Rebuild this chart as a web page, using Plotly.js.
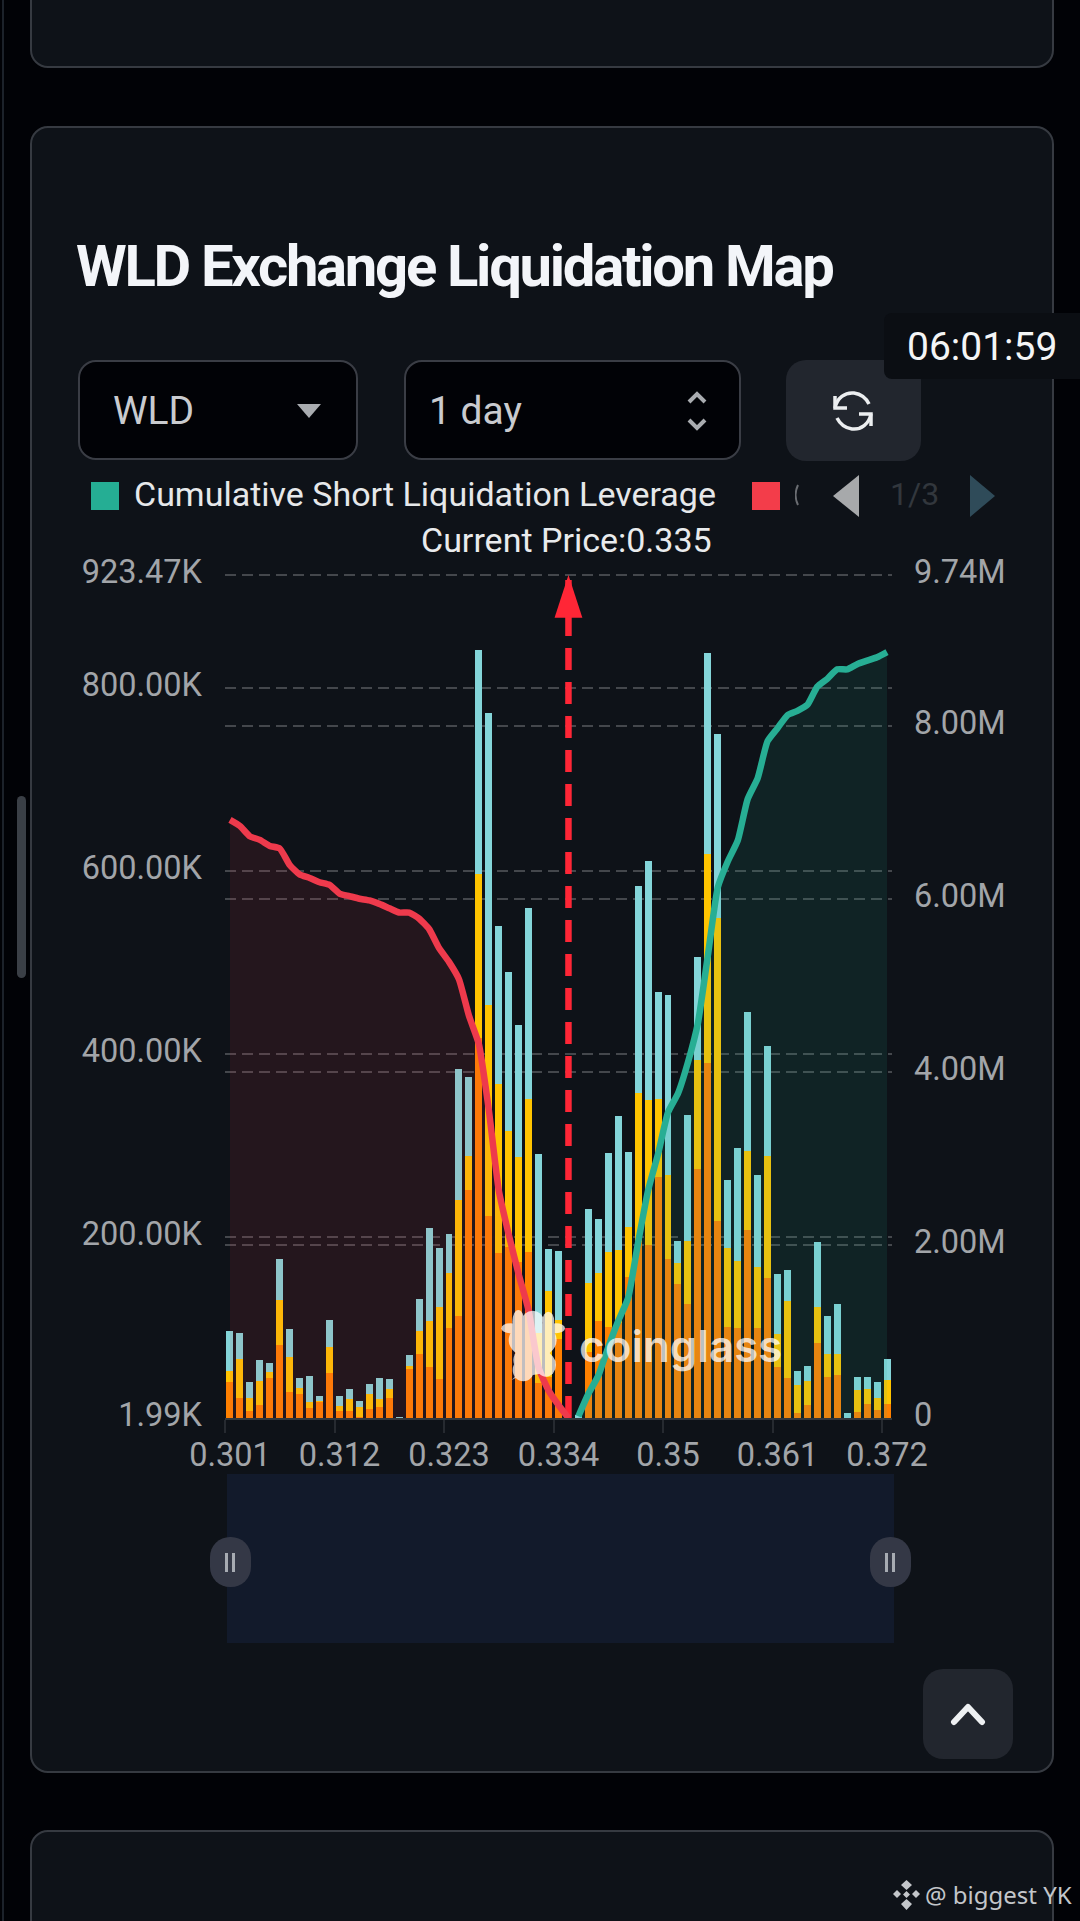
<!DOCTYPE html>
<html>
<head>
<meta charset="utf-8">
<title>WLD Exchange Liquidation Map</title>
<script src="https://cdn.plot.ly/plotly-3.0.1.min.js"></script>
<style>
html,body{margin:0;padding:0;background:#010206;font-family:Roboto,sans-serif;}
#page{position:relative;width:1080px;height:1921px;overflow:hidden;background:#010206;}
#page>div,#page>svg{position:absolute;box-sizing:border-box;}
.card{left:30px;width:1024px;background:#0e1218;border:2px solid #363a41;border-radius:18px;}
.select{top:360px;height:100px;background:#010206;border:2px solid #3a3d45;border-radius:18px;color:#c9cbcf;font-size:39px;line-height:98px;}
.btn{background:#22262e;border-radius:20px;}
.swatch{top:482px;width:28px;height:28px;}
#chart{left:0;top:0;width:1080px;height:1921px;}
.gtitle{letter-spacing:-2.3px;}
</style>
</head>
<body>
<div id="page">
  <div style="left:2px;top:0;width:2px;height:1921px;background:#1c222a"></div>
  <div style="left:17px;top:796px;width:9px;height:182px;background:#3a3f46;border-radius:5px"></div>
  <div class="card" style="top:-40px;height:108px"></div>
  <div class="card" style="top:126px;height:1647px"></div>
  <div class="card" style="top:1830px;height:200px"></div>

  <div class="select" style="left:78px;width:280px;padding-left:33px">WLD</div>
  <svg style="left:297px;top:404px" width="24" height="14"><path d="M0 0H24L12 14Z" fill="#a9acb0"/></svg>
  <div class="select" style="left:404px;width:337px;padding-left:23px">1 day</div>
  <svg style="left:686px;top:391px" width="22" height="40" fill="none" stroke="#a9acb0" stroke-width="4"><path d="M3 11L11 3L19 11M3 29L11 37L19 29"/></svg>
  <div class="btn" style="left:786px;top:360px;width:135px;height:101px"></div>
  <svg style="left:830px;top:388px" width="46" height="46" fill="none" stroke="#eceef0" stroke-width="3.5"><path d="M5 20C7 10 15 4 24 5C31 6 36 10 39 16M41 26C39 36 31 42 22 41C15 40 10 36 7 30"/><path d="M5 8V20H17M41 38V26H29"/></svg>
  <div style="left:884px;top:313px;width:196px;height:66px;background:#0b0e13;border-radius:8px 0 0 8px;color:#f4f5f6;font-size:39px;line-height:68px;padding-left:23px;white-space:nowrap">06:01:59</div>

  <div class="swatch" style="left:91px;background:#25ae94"></div>
  <div style="left:134px;top:472px;color:#e6e8ea;font-size:34px;line-height:44px;white-space:nowrap">Cumulative Short Liquidation Leverage</div>
  <div class="swatch" style="left:752px;background:#f33d4a"></div>
  <!-- sliver of the next legend label, scrolled away behind the pager -->
  <svg style="left:795px;top:484px" width="4" height="22"><path d="M3 1C0 7 0 15 3 21" fill="none" stroke="#6a6d72" stroke-width="2"/></svg>
  <svg style="left:833px;top:475px" width="162" height="42"><path d="M26 0V42L0 21Z" fill="#a7a9ab"/><path d="M137 0V42L162 21Z" fill="#2f4b59"/></svg>
  <div style="left:890px;top:472px;color:#32373d;font-size:32px;line-height:44px">1/3</div>

  <div style="left:227px;top:1474px;width:667px;height:169px;background:#121a2b"></div>

  <div id="chart"></div>

  <!-- coinglass logo sits on top of the bars -->
  <svg style="left:490px;top:1180px" width="150" height="240" viewBox="0 0 450 720">
    <g fill="#fff" opacity="0.72">
      <ellipse cx="85" cy="425" rx="18" ry="35"/><ellipse cx="128" cy="420" rx="32" ry="28"/><ellipse cx="175" cy="425" rx="18" ry="30"/>
      <ellipse cx="128" cy="480" rx="72" ry="55"/><ellipse cx="60" cy="445" rx="26" ry="15"/><ellipse cx="198" cy="445" rx="27" ry="15"/>
      <ellipse cx="128" cy="540" rx="58" ry="45"/><ellipse cx="100" cy="570" rx="32" ry="34"/><ellipse cx="168" cy="555" rx="30" ry="35"/>
      <path d="M95 585L65 600L90 575Z"/>
    </g>
  </svg>

  <div style="left:925px;top:1876px;color:#c3c6ca;font-family:'Noto Sans',sans-serif;font-size:24px;line-height:38px;white-space:nowrap">@ biggest YK</div>
  <svg style="left:893px;top:1880px" width="27" height="30" fill="#c3c6ca"><path d="M13.5 0L19 5L13.5 10L8 5ZM4 10L8 14L4 18L0 14ZM23 10L27 14L23 18L19 14ZM13.5 11L17 14.5L13.5 18L10 14.5ZM13.5 19L19 24L13.5 30L8 24Z"/></svg>

  <!-- datazoom handles -->
  <div style="left:210px;top:1537px;width:41px;height:50px;background:#343846;border-radius:20px"></div>
  <div style="left:870px;top:1537px;width:41px;height:50px;background:#343846;border-radius:20px"></div>
  <svg style="left:224px;top:1553px" width="12" height="19" fill="#a7abb2"><rect x="1" width="3" height="19"/><rect x="8" width="3" height="19"/></svg>
  <svg style="left:884px;top:1553px" width="12" height="19" fill="#a7abb2"><rect x="1" width="3" height="19"/><rect x="8" width="3" height="19"/></svg>

  <div class="btn" style="left:923px;top:1669px;width:90px;height:90px"></div>
  <svg style="left:950px;top:1702px" width="36" height="24" fill="none" stroke="#eef0f2" stroke-width="6" stroke-linecap="round" stroke-linejoin="round"><path d="M4 20L18 5L32 20"/></svg>
</div>

<script>
// ── WLD liquidation map ─────────────────────────────────────────
const prices = ['0.301','0.302','0.303','0.304','0.305','0.306','0.307','0.308','0.309','0.31','0.311',
  '0.312','0.313','0.314','0.315','0.316','0.317','0.318','0.319','0.32','0.321','0.322',
  '0.323','0.324','0.325','0.326','0.327','0.328','0.329','0.33','0.331','0.332','0.333',
  '0.334','0.335','0.341','0.342','0.343','0.344','0.345','0.346','0.347','0.348','0.349',
  '0.35','0.351','0.352','0.353','0.354','0.355','0.356','0.357','0.358','0.359','0.36',
  '0.361','0.362','0.363','0.364','0.365','0.366','0.367','0.368','0.369','0.37','0.371','0.372'];

// leverage tiers, thousands
const orangeTier = [41,24,10,16,46,82,30,28,13,20,51,10,10,3,12,14,24,0,56,72,58,45,100,113,251,417,223,182,189,172,183,40,47,88,0,
  0,74,108,102,106,156,194,191,265,176,148,127,274,390,217,101,100,207,100,155,58,46,8,16,84,47,49,0,9,17,11,17];
const yellowTier = [12,42,14,26,6,49,39,7,6,1,29,5,13,11,16,9,10,0,3,25,50,78,61,127,37,180,230,185,127,115,168,55,94,21,0,
  0,76,53,81,80,55,163,159,86,92,23,69,119,229,331,87,74,87,67,133,36,84,30,26,39,25,23,0,24,17,13,27];
const tealTier = [44,29,17,23,10,45,30,11,29,5,29,11,11,7,11,23,11,3,12,35,102,65,42,144,87,245,320,173,174,145,209,196,46,75,0,
  5,80,59,109,146,82,226,261,117,196,25,137,113,219,202,74,123,152,101,121,65,34,15,17,71,41,55,8,14,13,17,22];

// cumulative curves, millions
const cumLong = [6.91,6.84,6.72,6.68,6.61,6.58,6.39,6.28,6.24,6.19,6.16,6.06,6.03,6.00,5.98,5.94,5.89,5.84,5.84,5.77,5.65,5.43,5.27,5.07,4.65,4.32,3.56,2.63,2.12,1.66,1.24,0.58,0.32,0.15,0];
const cumShort = [0.02,0.28,0.49,0.82,1.12,1.39,2.03,2.63,3.05,3.53,3.75,4.11,4.56,5.34,6.13,6.43,6.67,7.15,7.39,7.82,7.97,8.12,8.17,8.24,8.45,8.54,8.65,8.65,8.71,8.75,8.79,8.85];

const leftTicks = [1.99,200,400,600,800,923.47];
const leftLabels = ['1.99K','200.00K','400.00K','600.00K','800.00K','923.47K'];
const rightTicks = [0,2,4,6,8,9.74];
const rightLabels = ['0','2.00M','4.00M','6.00M','8.00M','9.74M'];
const currentPrice = '0.335';

const W = 1080, H = 1921;
const plot = {l:224.5, r:892.5, t:575, b:1418};
const AXIS_TEXT = {family:'Roboto, sans-serif', size:32.5, color:'#a2a5a9'};
const GRID_COLOR = '#44474c', GRID_DASH = '11px,6px';
const GRID = {showgrid:true, gridcolor:GRID_COLOR, gridwidth:2, griddash:GRID_DASH, zeroline:false, showline:false, ticks:'', automargin:false};

const barTrace = (name,y,color) => ({type:'bar',name,x:prices,y,marker:{color,line:{width:0}},hoverinfo:'skip'});

const traces = [
  barTrace('Liquidation 100x',orangeTier,'#ff8000'),
  barTrace('Liquidation 50x',yellowTier,'#ffc400'),
  barTrace('Liquidation 25x',tealTier,'#84d5d9'),
  {type:'scatter',mode:'lines',name:'Cumulative Long Liquidation Leverage',x:prices.slice(0,cumLong.length),y:cumLong,yaxis:'y2',
   fill:'tozeroy',fillcolor:'rgba(238,58,76,0.1)',line:{color:'#ee3a4c',width:6.5,shape:'spline',smoothing:0.5}},
  {type:'scatter',mode:'lines',name:'Cumulative Short Liquidation Leverage',x:prices.slice(-cumShort.length),y:cumShort,yaxis:'y2',
   fill:'tozeroy',fillcolor:'rgba(39,174,148,0.11)',line:{color:'#27ae94',width:6.5,shape:'spline',smoothing:0.5}},
  {type:'scatter',mode:'lines',name:'Current Price',x:[currentPrice,currentPrice],y:[leftTicks[0],leftTicks[5]],
   line:{color:'#ff2636',width:6.5,dash:'22px,12px'}},
  {type:'scatter',mode:'markers',x:[currentPrice],y:[leftTicks[5]],cliponaxis:false,
   marker:{symbol:'arrow',size:45,color:'#ff2636',line:{width:0}},hoverinfo:'skip'},
];

const layout = {
  width:W, height:H, autosize:false,
  paper_bgcolor:'rgba(0,0,0,0)', plot_bgcolor:'rgba(0,0,0,0)',
  margin:{l:plot.l, r:W-plot.r, t:plot.t, b:H-plot.b, pad:0},
  showlegend:false, barmode:'stack', bargap:0.3,
  title:{text:'<b>WLD Exchange Liquidation Map</b>', x:76/W, xanchor:'left', y:1-266/H, yanchor:'middle',
    font:{family:'Roboto, sans-serif', size:58, color:'#f3f5f9'}},
  xaxis:{type:'category', categoryorder:'array', categoryarray:prices, range:[-0.5,prices.length-0.5],
    tickmode:'linear', tick0:0, dtick:11, tickson:'boundaries', ticks:'outside', ticklen:13, tickwidth:2, tickcolor:'#262a30',
    showline:true, linecolor:'#33373c', linewidth:2, showgrid:false, zeroline:false, tickangle:0, tickfont:AXIS_TEXT,
    ticklabelstandoff:7, automargin:false},
  yaxis:Object.assign({range:[leftTicks[0],leftTicks[5]], tickmode:'array', tickvals:leftTicks, ticktext:leftLabels,
    tickfont:AXIS_TEXT, ticklabelstandoff:22},GRID),
  yaxis2:Object.assign({overlaying:'y', side:'right', range:[rightTicks[0],rightTicks[5]], tickmode:'array', tickvals:rightTicks, ticktext:rightLabels,
    tickfont:AXIS_TEXT, ticklabelstandoff:21},GRID),
  // plotly leaves out the gridline that falls on the axis end
  shapes:[{type:'line', xref:'paper', yref:'paper', x0:0, x1:1, y0:1, y1:1, layer:'below', line:{color:GRID_COLOR, width:2, dash:GRID_DASH}}],
  annotations:[
    {text:'Current Price:'+currentPrice, xref:'paper', yref:'paper', x:(567-plot.l)/(plot.r-plot.l), y:1+(575-540)/(plot.b-plot.t),
     xanchor:'center', yanchor:'middle', showarrow:false, font:{family:'Roboto, sans-serif', size:34, color:'#e9ebed'}},
    {text:'coinglass', xref:'paper', yref:'paper', x:(681-plot.l)/(plot.r-plot.l), y:(plot.b-1346)/(plot.b-plot.t),
     xanchor:'center', yanchor:'middle', showarrow:false, font:{family:'Inter, sans-serif', size:44, weight:600, color:'rgba(255,255,255,0.72)'}},
  ],
};

Plotly.newPlot('chart', traces, layout, {displayModeBar:false, staticPlot:true}).then(() => {
  // value labels sit a touch above their gridlines in the original
  document.querySelectorAll('.ytick text, .y2tick text').forEach(t => t.setAttribute('dy','-3'));
});
</script>
</body>
</html>
